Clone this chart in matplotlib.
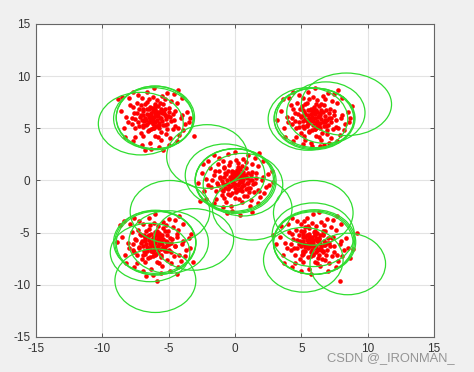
import numpy as np
import matplotlib
matplotlib.use("Agg")
import matplotlib.pyplot as plt
from matplotlib.patches import Ellipse

ticks = [-15, -10, -5, 0, 5, 10, 15]
tick_labels = ["-15", "-10", "-5", "0", "5", "10", "15"]

pts_tl = [
(-6.1,6.1),(-5.8,6.3),(-6.4,5.9),(-6.0,5.6),(-5.6,6.0),(-6.6,6.4),(-6.2,6.7),(-5.9,5.8),(-6.5,5.6),(-5.7,6.6),
(-6.3,6.2),(-5.5,5.7),(-6.8,6.0),(-6.0,6.9),(-5.9,5.2),(-6.7,5.3),(-5.3,6.3),(-6.9,6.7),(-6.2,5.4),(-5.6,6.9),
(-6.4,7.0),(-5.2,5.9),(-7.0,5.8),(-6.1,5.0),(-5.8,7.1),(-6.6,6.9),(-5.4,5.3),(-7.1,6.3),(-6.3,4.9),(-5.0,6.6),
(-6.9,5.1),(-5.7,5.0),(-6.0,7.3),(-7.2,6.9),(-5.1,5.4),(-6.5,4.8),(-5.4,7.3),(-7.3,5.6),(-4.9,6.1),(-6.8,7.3),
(-6.0,6.4),(-5.5,6.5),(-6.5,6.1),(-6.2,5.8),(-5.9,6.6),(-6.7,5.8),(-5.2,6.2),(-6.3,6.5),(-5.7,5.5),(-6.9,6.3),
(-7.6,6.5),(-7.8,5.4),(-4.6,5.8),(-4.5,6.7),(-6.2,8.0),(-5.5,8.1),(-7.0,7.9),(-6.0,4.3),(-5.2,4.5),(-7.1,4.6),
(-7.9,7.2),(-4.3,5.0),(-4.4,7.4),(-8.2,6.1),(-6.6,8.5),(-5.1,8.4),(-7.5,4.2),(-5.6,3.9),(-6.4,3.6),(-4.0,6.3),
(-8.4,5.0),(-8.0,7.9),(-4.2,4.4),(-3.8,5.4),(-6.1,8.9),(-5.0,3.4),(-7.0,3.4),(-8.6,6.7),(-3.6,6.6),(-4.6,8.3),
(-7.7,8.5),(-6.3,3.0),(-8.3,4.2),(-4.0,7.9),(-3.1,4.3),(-5.7,3.2),(-8.8,7.8),(-3.5,5.6),(-6.8,2.9),(-4.4,3.8),
(-7.4,7.4),(-4.8,7.6),(-7.5,5.0),(-4.7,4.9),(-5.3,7.8),(-6.9,4.3),(-7.8,6.0),(-4.1,6.0),(-5.8,4.2),(-6.5,7.8),
(-7.3,8.2),(-4.9,4.1),(-8.1,5.6),(-5.9,7.7),(-3.9,4.8),(-7.7,3.8),(-4.3,8.7),(-8.5,8.0),(-5.4,2.9),(-3.4,6.0),
(-5.95,6.55),(-6.45,6.25),(-5.65,5.95),(-6.25,5.65),(-5.35,6.45),(-6.85,5.75),(-5.75,5.35),(-6.45,6.85),(-5.05,6.15),(-7.15,6.05),
(-6.05,7.15),(-6.15,5.05),(-5.25,6.85),(-6.95,6.85),(-5.25,5.35),(-6.95,5.35),(-4.85,5.75),(-7.35,6.45),(-5.65,7.45),(-6.55,4.75),
(-5.85,6.15),(-6.35,5.95),(-5.45,6.65),(-6.65,5.45),(-4.95,6.95),(-7.25,5.25),(-5.95,5.25),(-6.25,6.95),(-4.65,6.35),(-7.55,5.85),
(-5.15,4.95),(-7.05,7.25),(-5.55,4.65),(-6.65,7.55),(-4.5,5.2),(-7.7,7.0),
]

pts_tr = [
(6.0,6.0),(6.3,6.2),(5.7,5.8),(6.1,5.5),(6.5,5.9),(5.5,6.3),(5.9,6.6),(6.2,5.7),(5.6,5.5),(6.4,6.5),
(5.8,6.1),(6.6,5.6),(5.3,5.9),(6.1,6.8),(6.2,5.1),(5.4,5.2),(6.8,6.2),(5.2,6.6),(5.9,5.3),(6.5,6.8),
(5.7,6.9),(6.9,5.8),(5.1,5.7),(6.0,4.9),(6.3,7.1),(5.5,6.8),(6.7,5.2),(5.0,6.2),(5.8,4.8),(7.1,6.5),
(5.2,5.0),(6.4,5.0),(6.1,7.3),(4.9,6.9),(7.0,5.3),(5.6,4.7),(6.7,7.2),(4.8,5.6),(7.2,6.0),(5.3,7.3),
(6.0,6.4),(6.4,6.3),(5.6,6.0),(5.9,5.7),(6.2,6.6),(5.4,5.7),(6.8,5.8),(5.7,6.4),(6.4,5.5),(5.2,6.3),
(4.5,6.5),(4.3,5.4),(7.6,5.8),(7.5,6.7),(5.9,8.0),(6.6,8.1),(5.1,7.9),(6.1,4.3),(6.9,4.5),(5.0,4.6),
(4.2,7.2),(7.8,5.0),(7.7,7.4),(3.9,6.1),(5.5,8.5),(7.0,8.4),(4.6,4.2),(6.5,3.9),(5.7,3.6),(8.1,6.3),
(3.7,5.0),(4.1,7.9),(7.9,4.4),(8.3,5.4),(6.0,8.9),(7.1,3.6),(5.1,3.5),(3.5,6.7),(8.5,6.6),(7.5,8.3),
(4.4,8.5),(5.8,3.3),(3.8,4.2),(8.1,7.9),(8.8,7.1),(6.4,3.3),(3.2,5.8),(8.6,5.6),(5.3,3.9),(7.7,3.8),
(4.7,7.4),(7.3,7.6),(4.6,5.0),(7.4,4.9),(6.8,7.8),(5.2,4.3),(4.3,6.0),(8.0,6.0),(6.3,4.2),(5.6,7.8),
(4.8,8.2),(7.2,4.1),(4.0,5.6),(6.2,7.7),(8.2,4.8),(4.4,3.8),(7.8,8.7),(3.6,7.8),(6.7,3.4),(8.7,6.0),
(5.85,6.45),(6.35,6.15),(5.55,5.85),(6.15,5.55),(5.25,6.35),(6.75,5.65),(6.35,5.25),(5.65,6.75),(4.95,6.05),(7.05,5.95),
(5.95,7.05),(6.05,4.95),(5.15,6.75),(6.85,6.75),(5.15,5.25),(6.85,5.25),(7.25,5.65),(4.75,6.35),(6.45,7.35),(5.55,4.65),
(6.25,6.05),(5.75,5.85),(6.65,6.55),(5.45,5.35),(7.15,6.85),(4.85,5.15),(6.15,5.15),(5.85,6.85),(7.45,6.25),(4.55,5.75),
(6.95,4.85),(5.05,7.15),(6.55,4.55),(5.45,7.45),(7.6,5.1),(4.4,6.9),
]

pts_c = [
(0.1,0.1),(0.4,0.3),(-0.2,-0.1),(0.2,-0.4),(0.6,0.0),(-0.4,0.3),(0.0,0.6),(0.3,-0.2),(-0.3,-0.5),(0.5,0.5),
(-0.1,0.2),(0.7,-0.4),(-0.6,0.0),(0.2,0.8),(0.3,-0.9),(-0.5,-0.8),(0.9,0.2),(-0.7,0.6),(0.0,-0.7),(0.6,0.8),
(-0.2,0.9),(1.0,-0.2),(-0.9,-0.3),(0.1,-1.1),(0.4,1.1),(-0.5,0.9),(0.8,-0.8),(-1.1,0.2),(-0.2,-1.2),(1.2,0.5),
(-0.9,-1.0),(0.5,-1.0),(0.2,1.3),(-1.2,0.9),(1.1,-0.7),(-0.5,-1.3),(0.8,1.2),(-1.3,-0.4),(1.3,0.0),(-0.8,1.3),
(0.1,0.4),(0.5,0.3),(-0.3,0.0),(0.0,-0.3),(0.3,0.6),(-0.5,-0.3),(0.9,-0.2),(-0.2,0.4),(0.5,-0.5),(-0.8,0.3),
(-1.6,0.5),(-1.8,-0.6),(1.5,-0.2),(1.6,0.7),(0.1,2.0),(0.6,2.1),(-0.9,1.9),(0.0,-1.7),(0.9,-1.5),(-1.0,-1.4),
(-1.9,1.2),(1.8,-1.0),(1.7,1.4),(-2.2,0.1),(-0.5,2.5),(1.0,2.4),(-1.4,-1.8),(0.5,-2.1),(-0.3,-2.4),(2.1,0.3),
(-2.3,-1.0),(-2.0,1.9),(1.9,-1.6),(2.3,-0.6),(0.0,2.7),(1.1,-2.4),(-0.9,-2.5),(-2.5,0.7),(2.5,0.6),(1.5,2.2),
(-1.6,2.4),(-0.2,-2.9),(-2.2,-1.8),(2.1,1.9),(2.8,0.9),(0.4,-3.3),(-2.8,-0.2),(2.6,-0.4),(-0.7,-2.1),(1.7,-2.2),
(-1.3,1.6),(1.3,1.6),(-1.4,-1.0),(1.4,-1.1),(0.8,1.8),(-0.8,-1.7),(-1.7,0.0),(2.0,0.0),(0.3,-1.8),(-0.4,1.8),
(-1.2,2.2),(1.2,-1.9),(-2.0,-0.4),(0.2,1.7),(2.2,-1.2),(-1.6,-2.2),(1.8,2.6),(-2.4,1.6),(-0.6,-3.1),(2.9,-0.1),
(1.3,-3.0),(-2.6,-2.0),
(0.25,0.45),(-0.25,0.15),(0.55,-0.15),(-0.05,-0.45),(0.85,0.35),(-0.65,-0.35),(0.45,-0.75),(-0.25,0.75),(1.15,0.05),(-0.95,-0.05),
(0.15,1.05),(0.05,-1.05),(0.95,0.75),(-0.75,0.75),(0.95,-0.75),(-0.75,-0.75),(1.35,-0.35),(-1.15,0.35),(0.55,1.35),(-0.35,-1.35),
(0.35,0.05),(-0.15,-0.15),(0.75,0.55),(-0.45,-0.65),(1.25,0.85),(-1.05,-0.85),(0.25,-0.85),(-0.05,0.85),(1.55,0.25),(-1.35,-0.25),
(1.05,-1.15),(-0.85,1.15),(0.65,-1.45),(-0.45,1.45),(1.7,-0.9),(-1.5,0.9),
]

pts_bl = [
(-6.0,-6.0),(-5.7,-5.8),(-6.3,-6.2),(-5.9,-6.5),(-5.5,-6.1),(-6.5,-5.7),(-6.1,-5.4),(-5.8,-6.3),(-6.4,-6.5),(-5.6,-5.5),
(-6.2,-5.9),(-5.4,-6.4),(-6.7,-6.1),(-5.9,-5.2),(-5.8,-6.9),(-6.6,-6.8),(-5.2,-5.8),(-6.8,-5.4),(-6.1,-6.7),(-5.5,-5.2),
(-6.3,-5.1),(-5.1,-6.2),(-6.9,-6.3),(-6.0,-7.1),(-5.7,-5.0),(-6.5,-5.2),(-5.3,-6.8),(-7.0,-5.8),(-6.2,-7.2),(-4.9,-5.5),
(-6.8,-7.0),(-5.6,-7.1),(-5.9,-4.8),(-7.1,-5.2),(-5.0,-6.7),(-6.4,-7.3),(-5.3,-4.8),(-7.2,-6.5),(-4.8,-6.0),(-6.7,-4.8),
(-5.9,-5.7),(-5.4,-5.6),(-6.4,-6.0),(-6.1,-6.3),(-5.8,-5.5),(-6.6,-6.4),(-5.1,-5.9),(-6.2,-5.6),(-5.6,-6.6),(-6.8,-5.8),
(-7.5,-5.6),(-7.7,-6.7),(-4.5,-6.3),(-4.4,-5.4),(-6.1,-4.1),(-5.4,-4.0),(-6.9,-4.2),(-5.9,-7.8),(-5.1,-7.6),(-7.0,-7.5),
(-7.8,-4.9),(-4.2,-7.1),(-4.3,-4.7),(-8.1,-6.0),(-6.5,-3.6),(-5.0,-3.7),(-7.4,-7.9),(-5.5,-8.2),(-6.3,-8.5),(-3.9,-5.8),
(-8.3,-7.1),(-7.9,-4.2),(-4.1,-7.7),(-3.7,-6.7),(-6.0,-3.2),(-4.9,-8.7),(-6.9,-8.7),(-8.5,-5.4),(-3.5,-5.5),(-4.5,-3.8),
(-7.6,-3.6),(-6.2,-9.1),(-8.2,-7.9),(-3.9,-4.2),(-3.2,-7.8),(-5.6,-8.9),(-8.7,-4.3),(-3.4,-6.5),(-6.7,-9.2),(-4.3,-8.3),
(-7.3,-4.7),(-4.7,-4.5),(-7.4,-7.1),(-4.6,-7.2),(-5.2,-4.3),(-6.8,-7.8),(-7.7,-6.1),(-4.0,-6.1),(-5.7,-7.9),(-6.4,-4.3),
(-7.2,-3.9),(-4.8,-7.9),(-8.0,-6.5),(-5.8,-4.4),(-3.8,-7.2),(-7.6,-8.3),(-4.2,-3.4),(-8.4,-3.9),(-5.9,-9.6),(-3.3,-5.1),
(-8.9,-5.9),(-4.4,-9.0),
(-5.85,-6.45),(-6.35,-6.15),(-5.55,-5.85),(-6.15,-5.55),(-5.25,-6.35),(-6.75,-5.65),(-5.65,-5.25),(-6.35,-6.75),(-4.95,-6.05),(-7.05,-5.95),
(-5.95,-7.05),(-6.05,-4.95),(-5.15,-6.75),(-6.85,-6.75),(-5.15,-5.25),(-6.85,-5.25),(-4.75,-5.65),(-7.25,-6.35),(-5.55,-7.35),(-6.45,-4.65),
(-5.75,-6.05),(-6.25,-5.85),(-5.35,-6.55),(-6.55,-5.35),(-4.85,-6.85),(-7.15,-5.15),(-5.85,-5.15),(-6.15,-6.85),(-4.55,-6.25),(-7.45,-5.75),
(-5.05,-4.85),(-6.95,-7.15),(-5.45,-4.55),(-6.55,-7.45),(-4.4,-5.1),(-7.6,-6.9),
]

pts_br = [
(5.9,-6.0),(6.2,-5.8),(5.6,-6.2),(6.0,-6.5),(6.4,-6.1),(5.4,-5.7),(5.8,-5.4),(6.1,-6.3),(5.5,-6.5),(6.3,-5.5),
(5.7,-5.9),(6.5,-6.4),(5.2,-6.1),(6.0,-5.2),(6.1,-6.9),(5.3,-6.8),(6.7,-5.8),(5.1,-5.4),(5.8,-6.7),(6.4,-5.2),
(5.6,-5.1),(6.8,-6.2),(5.0,-6.3),(5.9,-7.1),(6.2,-5.0),(5.4,-5.2),(6.6,-6.8),(4.9,-5.8),(5.7,-7.2),(7.0,-5.5),
(5.1,-7.0),(6.3,-7.1),(6.0,-4.8),(4.8,-5.2),(6.9,-6.7),(5.5,-7.3),(6.6,-4.8),(4.7,-6.5),(7.1,-6.0),(5.2,-4.8),
(5.9,-5.7),(6.3,-5.6),(5.5,-6.0),(5.8,-6.3),(6.1,-5.5),(5.3,-6.4),(6.7,-6.2),(5.6,-5.6),(6.3,-6.6),(5.1,-5.8),
(4.4,-5.6),(4.2,-6.7),(7.5,-6.3),(7.4,-5.4),(5.8,-4.1),(6.5,-4.0),(5.0,-4.2),(6.0,-7.8),(6.8,-7.6),(4.9,-7.5),
(4.1,-4.9),(7.7,-7.1),(7.6,-4.7),(3.8,-6.0),(5.4,-3.6),(6.9,-3.7),(4.5,-7.9),(6.4,-8.2),(5.6,-8.5),(8.0,-5.8),
(3.6,-7.1),(4.0,-4.2),(7.8,-7.7),(8.2,-6.7),(5.9,-3.2),(7.0,-8.7),(5.0,-8.7),(3.4,-5.4),(8.4,-5.5),(7.4,-3.8),
(4.3,-3.6),(5.7,-9.0),(3.7,-7.9),(8.0,-4.2),(8.7,-7.4),(6.3,-3.0),(3.1,-6.1),(8.5,-6.5),(5.2,-3.9),(7.6,-8.3),
(4.6,-4.7),(7.2,-4.5),(4.5,-7.1),(7.3,-7.2),(6.7,-4.3),(5.1,-7.8),(4.2,-6.1),(7.9,-6.1),(6.2,-7.9),(5.5,-4.4),
(4.7,-3.9),(7.1,-7.9),(3.9,-6.5),(6.1,-4.4),(8.1,-7.2),(4.3,-8.3),(7.7,-3.4),(3.5,-4.4),(9.2,-5.0),(7.9,-9.6),
(2.9,-5.2),(8.9,-6.6),
(6.35,-5.85),(6.05,-6.35),(5.75,-5.55),(5.45,-6.15),(6.65,-5.25),(5.15,-6.75),(6.25,-6.65),(5.55,-5.35),(5.95,-4.95),(5.85,-7.05),
(6.95,-5.95),(4.85,-6.05),(6.65,-6.85),(5.15,-5.15),(5.15,-6.85),(6.65,-5.15),(7.15,-6.25),(4.65,-5.75),(6.25,-7.45),(5.55,-4.55),
(6.15,-5.75),(5.65,-6.25),(6.45,-6.65),(5.25,-5.45),(6.75,-4.85),(5.05,-7.15),(5.75,-6.85),(6.05,-5.15),(7.35,-5.55),(4.45,-6.45),
(6.85,-7.15),(4.95,-4.85),(6.55,-7.55),(5.25,-4.45),(7.5,-6.9),(4.3,-5.1),
]

# contour circles: centre x, centre y, half-width, half-height (data units)
circ_cx = [-6.0, -6.15, -6.05, -7.1,
           6.0, 5.95, 6.05, 8.4, 6.85, 5.5,
           0.0, -0.05, 0.05, -2.1, -0.75, 0.6, 1.3,
           -6.0, -5.95, -6.05, -4.9, -6.0, -3.1, -5.0, -6.4,
           5.95, 5.9, 6.0, 5.9, 5.15, 8.5, 5.9]
circ_cy = [6.05, 5.95, 6.0, 5.45,
           5.95, 5.9, 6.0, 7.3, 6.5, 5.9,
           0.0, 0.05, -0.05, 2.3, 0.5, -0.4, -2.7,
           -5.95, -6.0, -5.9, -3.0, -9.6, -5.65, -5.9, -6.9,
           -5.95, -6.0, -5.9, -3.1, -7.6, -8.0, -5.2]
circ_rx = [2.95, 3.0, 2.9, 3.2,
           3.05, 3.0, 2.95, 3.4, 2.95, 3.0,
           3.0, 2.95, 3.05, 3.05, 3.0, 3.0, 3.0,
           3.05, 3.0, 3.1, 3.0, 3.05, 3.0, 3.0, 3.0,
           3.05, 3.0, 3.1, 3.0, 3.0, 2.85, 3.1]
circ_ry = [3.0, 2.95, 3.05, 3.0,
           2.9, 2.95, 2.85, 3.0, 2.95, 3.0,
           3.05, 3.0, 3.1, 3.05, 3.0, 3.0, 3.0,
           3.1, 3.05, 3.0, 3.0, 3.05, 2.95, 3.0, 2.8,
           3.05, 3.0, 3.1, 3.1, 3.1, 2.95, 3.05]

fig = plt.figure(figsize=(4.74, 3.72), dpi=100)
fig.patch.set_facecolor("#f0f0f0")
ax = fig.add_axes([0.0759, 0.0941, 0.8397, 0.8414])
ax.set_facecolor("white")

for pts in (pts_tl, pts_tr, pts_c, pts_bl, pts_br):
    arr = np.array(pts)
    ax.plot(arr[:, 0], arr[:, 1], "o", color="#ff0000", markersize=3.3,
            markeredgewidth=0, zorder=3)

for cx, cy, rx, ry in zip(circ_cx, circ_cy, circ_rx, circ_ry):
    ax.add_patch(Ellipse((cx, cy), 2 * rx, 2 * ry, fill=False,
                         edgecolor="#30dd30", linewidth=0.9, zorder=4))

ax.set_xlim(-15, 15)
ax.set_ylim(-15, 15)
ax.set_xticks(ticks)
ax.set_yticks(ticks)
ax.set_xticklabels(tick_labels)
ax.set_yticklabels(tick_labels)
ax.grid(True, color="#e3e3e3", linewidth=0.8, zorder=0)
ax.set_axisbelow(True)
ax.tick_params(direction="in", length=3, width=0.7, color="#555555",
               labelsize=8.5, labelcolor="#333333", top=True, right=True, pad=4)
for lab in ax.get_xticklabels() + ax.get_yticklabels():
    lab.set_fontfamily("Liberation Sans")
for s in ax.spines.values():
    s.set_color("#666666")
    s.set_linewidth(0.8)

fig.text(0.69, 0.03, "CSDN @_IRONMAN_", fontsize=9.3, color="#8a8a8a",
         family="Liberation Sans", alpha=0.9)

fig.savefig("out.png", dpi=100, facecolor=fig.get_facecolor())
